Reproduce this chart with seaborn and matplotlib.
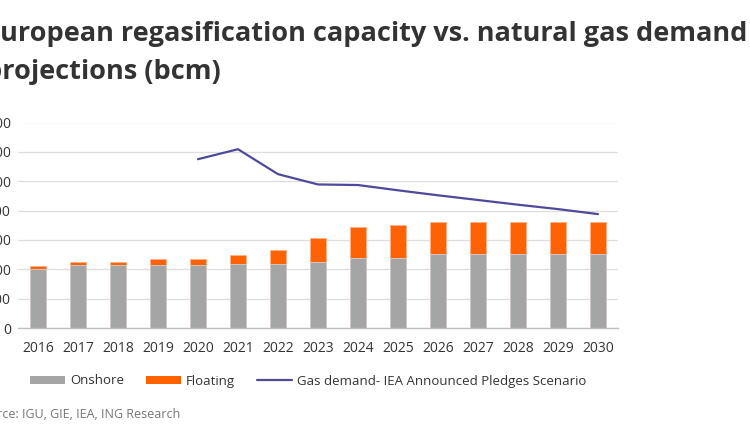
import numpy as np
import pandas as pd
import matplotlib
matplotlib.use("Agg")
import matplotlib.pyplot as plt
import seaborn as sns
from matplotlib.patches import Patch
from matplotlib.lines import Line2D

years = [2016, 2017, 2018, 2019, 2020, 2021, 2022, 2023, 2024, 2025, 2026, 2027, 2028, 2029, 2030]
onshore = [202, 215, 215, 215, 215, 218, 218, 225, 239, 239, 251, 251, 251, 251, 251]
floating = [9, 10, 10, 20, 20, 30, 47, 81, 106, 111, 111, 111, 111, 111, 111]
demand = [np.nan, np.nan, np.nan, np.nan, 575, 609, 524, 489, 487, 469, 452, 436, 420, 405, 388]
yticks = [0, 100, 200, 300, 400, 500, 600, 700]

title = "European regasification capacity vs. natural gas demand\nprojections (bcm)"
source = "Source: IGU, GIE, IEA, ING Research"
legend_labels = ["Onshore", "Floating", "Gas demand- IEA Announced Pledges Scenario"]

GRAY = "#A5A5A5"
ORANGE = "#FF6200"
LINE = "#4E4A9B"
TXT = "#333333"

sns.set_theme(style="white")
plt.rcParams["font.family"] = ["Open Sans", "DejaVu Sans"]

df = pd.DataFrame({"year": years, "onshore": onshore, "floating": floating, "demand": demand})
df["total"] = df["onshore"] + df["floating"]
df["pos"] = np.arange(len(years))

fig = plt.figure(figsize=(7.5, 4.32), dpi=100)
ax = fig.add_axes([18 / 750, 1 - 328 / 432, 600 / 750, (328 - 122.5) / 432])

sns.barplot(data=df, x="year", y="total", color=ORANGE, saturation=1, width=0.4,
            edgecolor="#FFB08A", linewidth=0.6, ax=ax)
sns.barplot(data=df, x="year", y="onshore", color=GRAY, saturation=1, width=0.4,
            edgecolor="#D0D0D0", linewidth=0.6, ax=ax)
sns.lineplot(data=df.dropna(), x="pos", y="demand", color=LINE, linewidth=1.6, ax=ax)

ax.set_xlim(-0.5, len(years) - 0.5)
ax.set_ylim(0, 700)
ax.set_yticks(yticks)
ax.set_yticklabels([str(v) for v in yticks])
ax.set_xlabel("")
ax.set_ylabel("")
ax.grid(axis="y", color="#DDDDDD", linewidth=0.9)
ax.set_axisbelow(True)
for s in ["top", "right", "left"]:
    ax.spines[s].set_visible(False)
ax.spines["bottom"].set_color("#BFBFBF")
ax.spines["bottom"].set_linewidth(1)
ax.set_xticks(np.arange(-0.5, len(years), 1.0), minor=True)
ax.tick_params(axis="x", which="minor", length=4, color="#BFBFBF", width=1, direction="out")
ax.tick_params(axis="x", which="major", length=0, pad=9, labelsize=10, labelcolor=TXT)
ax.tick_params(axis="y", length=0, pad=5, labelsize=10, labelcolor=TXT)

handles = [Patch(facecolor=GRAY, edgecolor="none"),
           Patch(facecolor=ORANGE, edgecolor="none"),
           Line2D([0], [0], color=LINE, linewidth=1.6)]
fig.legend(handles, legend_labels, loc="center left", bbox_to_anchor=(25 / 750, 1 - 381 / 432),
           ncol=3, frameon=False, fontsize=9.5, handlelength=2.65, handleheight=0.6,
           columnspacing=1.7, handletextpad=0.35, labelcolor=TXT, borderaxespad=0)

fig.text(-15 / 750, 1 - 53 / 432, title, fontsize=19.5, fontweight="bold", color=TXT,
         ha="left", va="center", linespacing=1.62)
fig.text(-25 / 750, 1 - 415 / 432, source, fontsize=9, color="#777777", ha="left", va="center")

fig.savefig("out.png", dpi=100)
